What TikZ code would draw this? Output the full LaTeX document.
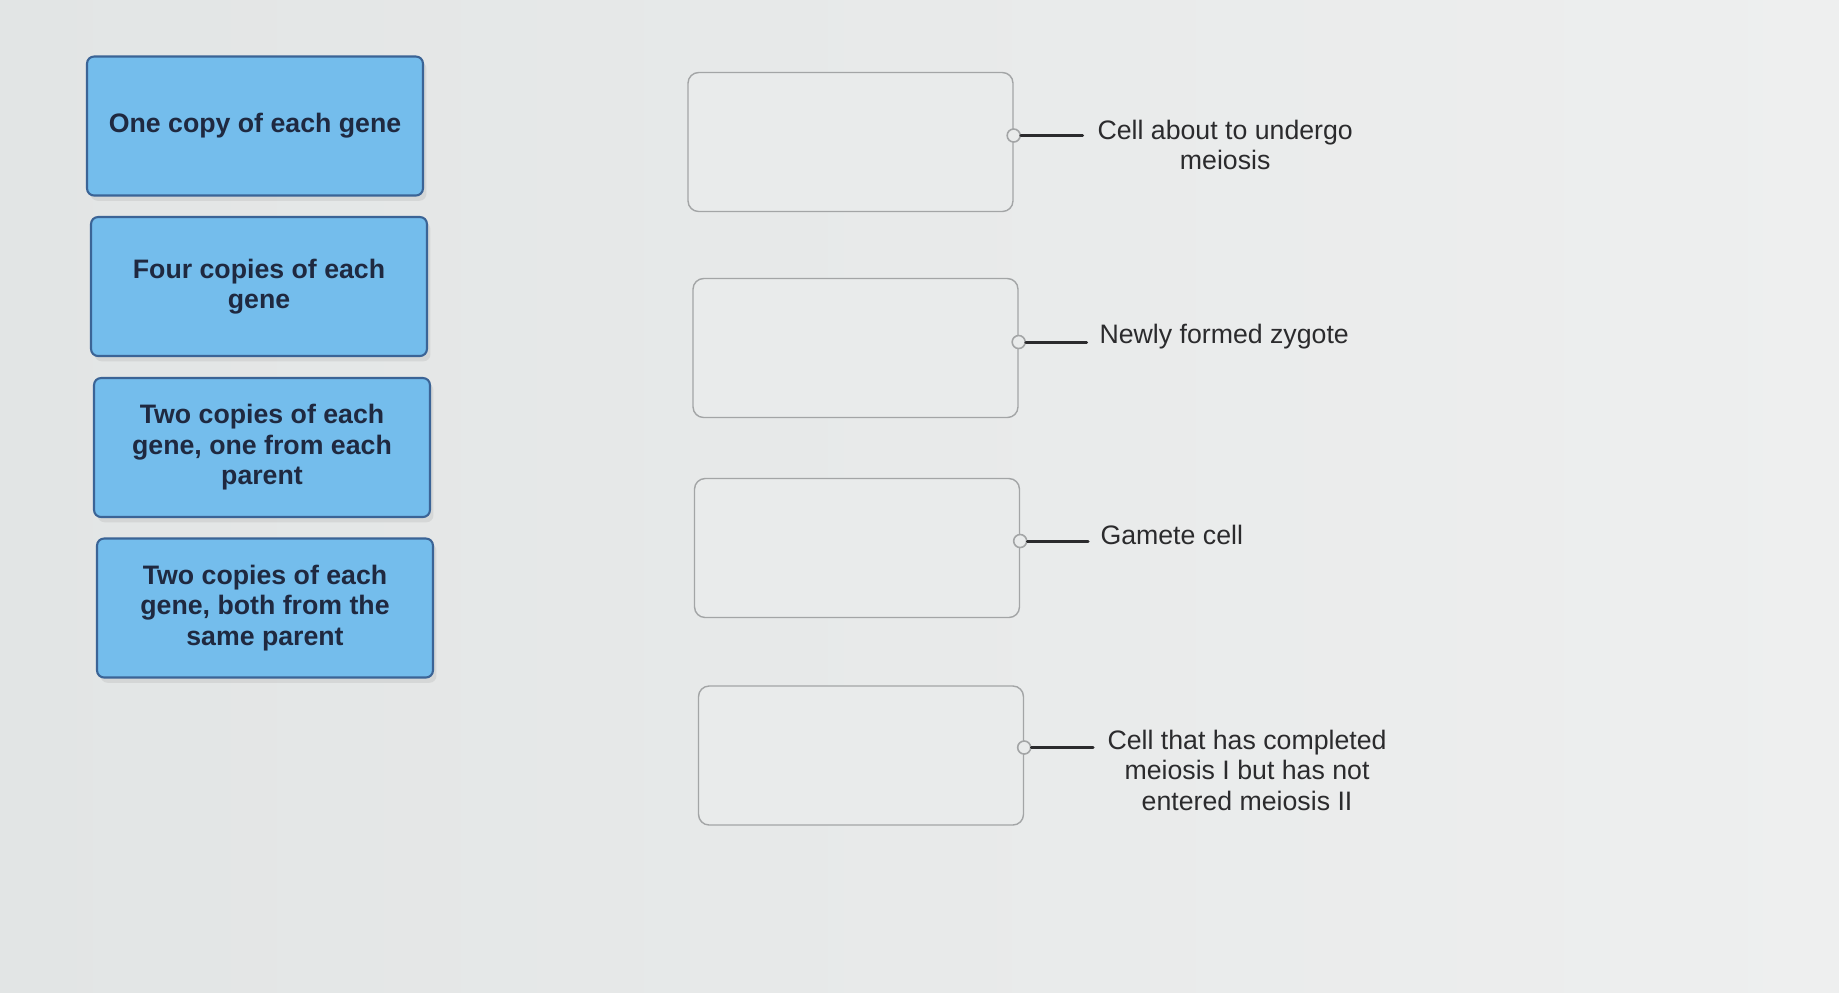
\documentclass[tikz,border=0pt]{standalone}
\usepackage{fontspec}
\setmainfont{Liberation Sans}
\usetikzlibrary{shadows}
\definecolor{bgleft}{HTML}{E2E5E5}
\definecolor{bgright}{HTML}{EEEFEF}
\definecolor{cardblue}{HTML}{74BDEC}
\definecolor{cardedge}{HTML}{3B6496}
\definecolor{cardtext}{HTML}{1F2940}
\definecolor{slotfill}{HTML}{E9EBEB}
\definecolor{slotedge}{HTML}{A3A5A6}
\definecolor{labtext}{HTML}{2B2B2D}
\tikzset{
  card/.style={draw=cardedge, line width=1.2pt, fill=cardblue, rounded corners=4pt,
    minimum width=6.72cm, minimum height=2.78cm, align=center, text=cardtext,
    font=\fontsize{15.2}{17.4}\selectfont\bfseries,
    drop shadow={shadow xshift=2pt, shadow yshift=-3pt, opacity=0.15}},
  slot/.style={draw=slotedge, line width=0.8pt, fill=slotfill, rounded corners=6pt,
    minimum width=6.5cm, minimum height=2.78cm},
  pin/.style={circle, draw=slotedge, fill=slotfill, line width=0.9pt, minimum size=0.26cm, inner sep=0pt},
  lbl/.style={align=center, inner sep=0pt, anchor=north west, text=labtext,
    font=\fontsize{15.2}{17.4}\selectfont}
}
\begin{document}
\begin{tikzpicture}[x=0.02cm,y=-0.02cm,line join=round,line cap=round]
			\shade[left color=bgleft,right color=bgright] (0,0) rectangle (1839,992);
			\useasboundingbox (0,0) rectangle (1839,992);
			% answer cards
			\node[card] (c1) at (255,126) {One copy of each gene};
			\node[card] (c2) at (259,286.5) {Four copies of each\\gene};
			\node[card] (c3) at (262,447.5) {Two copies of each\\gene, one from each\\parent};
			\node[card] (c4) at (265,608) {Two copies of each\\gene, both from the\\same parent};
			% drop slots
			\node[slot] (s1) at (850.5,142) {};
			\node[slot] (s2) at (855.5,348) {};
			\node[slot] (s3) at (857,548) {};
			\node[slot] (s4) at (861,755.5) {};
			\node[pin] (p1) at ([yshift=0.13cm]s1.east) {};
			\node[pin] (p2) at ([yshift=0.12cm]s2.east) {};
			\node[pin] (p3) at ([yshift=0.14cm]s3.east) {};
			\node[pin] (p4) at ([yshift=0.16cm]s4.east) {};
			\coordinate (e1) at ([xshift=1.38cm]p1.center);
			\coordinate (e2) at ([xshift=1.36cm]p2.center);
			\coordinate (e3) at ([xshift=1.36cm]p3.center);
			\coordinate (e4) at ([xshift=1.38cm]p4.center);
			\draw[line width=1.7pt,labtext] (p1.east)--(e1) (p2.east)--(e2) (p3.east)--(e3) (p4.east)--(e4);
			% descriptions
			\node[lbl] (l1) at ([xshift=0.29cm,yshift=0.32cm]e1) {Cell about to undergo\\meiosis};
			\node[lbl] (l2) at ([xshift=0.25cm,yshift=0.36cm]e2) {Newly formed zygote};
			\node[lbl] (l3) at ([xshift=0.24cm,yshift=0.33cm]e3) {Gamete cell};
			\node[lbl] (l4) at ([xshift=0.28cm,yshift=0.36cm]e4) {Cell that has completed\\meiosis I but has not\\entered meiosis II};
\end{tikzpicture}
\end{document}
